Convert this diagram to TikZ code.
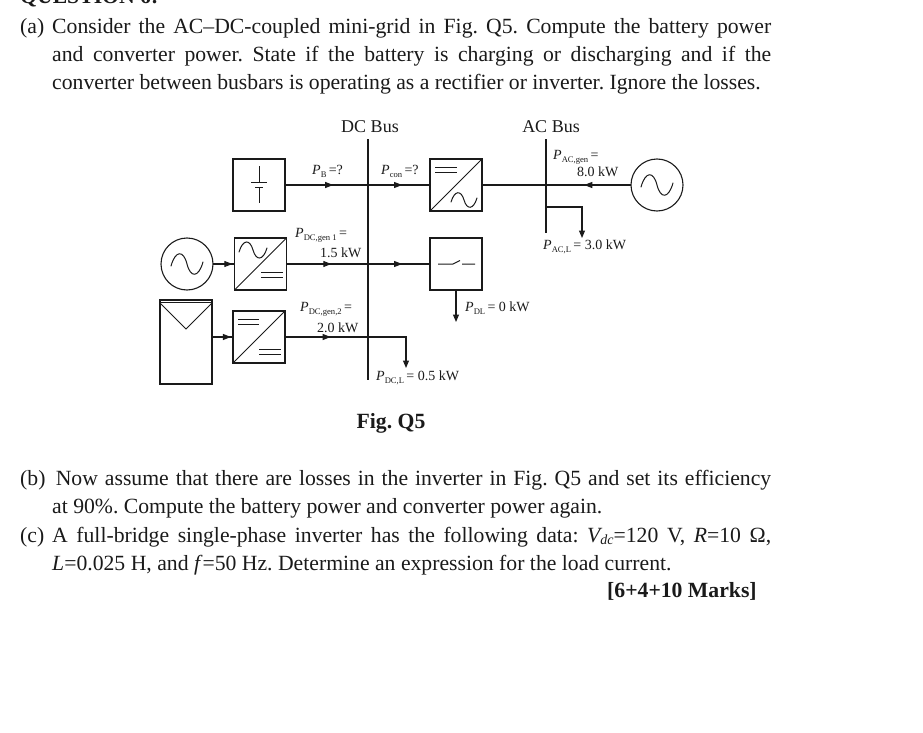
\documentclass[tikz,border=0pt]{standalone}
\usepackage{fontspec}
\setmainfont{Liberation Serif}
\usetikzlibrary{arrows.meta,decorations.markings}
\definecolor{ink}{HTML}{1A1A1A}
\frenchspacing
\newcommand{\Psb}[1]{\textit{P}\raisebox{-3pt}{\fontsize{8.6}{9}\selectfont #1}}
\newcommand{\sline}[1]{\makebox[719pt][s]{#1}}
\tikzset{
  conn/.style={draw=ink,line width=1.05pt},
  thin sym/.style={draw=ink,line width=1pt},
  busbar/.style={draw=ink,line width=2.2pt},
  boxn/.style={draw=ink,line width=1.2pt,rectangle,minimum width=52pt,minimum height=52pt,inner sep=0pt,outer sep=0pt},
  gen/.style={draw=ink,line width=1.1pt,circle,minimum size=52pt,inner sep=0pt,outer sep=0pt},
  body/.style={anchor=base west,inner sep=0pt,text=ink,font=\fontsize{21.7}{24}\selectfont},
  boldbody/.style={body,font=\fontsize{21.7}{24}\selectfont\bfseries},
  lab/.style={anchor=base west,inner sep=0pt,text=ink,font=\fontsize{14}{16}\selectfont},
  busl/.style={anchor=base,inner sep=0pt,text=ink,font=\fontsize{18}{20}\selectfont},
  arrowat/.style={postaction={decorate,decoration={markings,mark=at position #1 with {\arrow[ink]{Triangle[length=8pt,width=6pt]}}}}},
  endtip/.style={-{Triangle[length=7.5pt,width=6pt]}}
}
\newcommand{\sinew}[4]{% centre x, centre y, half width, control height
  \draw[thin sym,line cap=round] (#1-#3,#2+2) .. controls (#1-#3*0.72,#2-#4) and (#1-#3*0.22,#2-#4) .. (#1,#2) .. controls (#1+#3*0.22,#2+#4) and (#1+#3*0.72,#2+#4) .. (#1+#3,#2-2);}
\newcommand{\dbl}[3]{% left x, right x, top y
  \draw[thin sym] (#1,#3) -- (#2,#3) (#1,#3+5.3) -- (#2,#3+5.3);}
\begin{document}
\begin{tikzpicture}[x=1pt,y=-1pt]
\useasboundingbox (0,0) rectangle (923,733);
% text
\node[boldbody] (qt) at (20,4) {QUESTION 6:};
\node[body] (a0) at (20,33.5) {(a)};
\node[body] (a1) at (52,33.5) {\sline{Consider the AC–DC-coupled mini-grid in Fig. Q5. Compute the battery power}};
\node[body] (a2) at (52,61.5) {\sline{and converter power. State if the battery is charging or discharging and if the}};
\node[body] (a3) at (52,90) {converter between busbars is operating as a rectifier or inverter. Ignore the losses.};
\node[boldbody,anchor=base] (fig) at (391,428) {Fig. Q5};
\node[body] (b0) at (20,485.5) {(b)};
\node[body] (b1) at (52,485.5) {\sline{\,Now assume that there are losses in the inverter in Fig. Q5 and set its efficiency}};
\node[body] (b2) at (52,513.5) {at 90\%. Compute the battery power and converter power again.};
\node[body] (c0) at (20,542.5) {(c)};
\node[body] (c1) at (52,542.5) {\sline{A full-bridge single-phase inverter has the following data: \textit{V\raisebox{-2pt}{\fontsize{14}{15}\selectfont dc}}=120 V, \textit{R}=10 Ω,}};
\node[body] (c2) at (52,570.5) {\textit{L}=0.025 H, and \textit{f}=50 Hz. Determine an expression for the load current.};
\node[boldbody] (mk) at (607,597.5) {[6+4+10 Marks]};
% buses
\coordinate (dct) at (368,139); \coordinate (dcb) at (368,380);
\coordinate (act) at (546,139); \coordinate (acb) at (546,233);
\coordinate (dc1) at (368,185); \coordinate (dc2) at (368,264); \coordinate (dc3) at (368,337);
\coordinate (ac1) at (546,185); \coordinate (ac2) at (546,207);
\coordinate (accorner) at (582,207); \coordinate (acend) at (582,238);
\coordinate (dccorner) at (406,337); \coordinate (dcend) at (406,368);
\coordinate (dlend) at (456,322);
\draw[busbar] (dct) -- (dcb);
\draw[busbar] (act) -- (acb);
\node[busl] (dcl) at (370,132) {DC Bus};
\node[busl] (acl) at (551,132) {AC Bus};
% blocks
\node[boxn] (bat) at (259,185) {};
\node[boxn] (cv) at (456,185) {};
\node[boxn] (sw) at (456,264) {};
\node[boxn] (cg) at (260.5,264) {};
\node[boxn] (cp) at (259,337) {};
\node[gen] (g1) at (187,264) {};
\node[gen] (g2) at (657,185) {};
\node[boxn,minimum width=52pt,minimum height=84pt] (pv) at (186,342) {};
% battery
\draw[thin sym] (259,166) -- (259,182) (251,182) -- (267,182) (255,187) -- (263,187) (259,187) -- (259,203);
% converters
\draw[thin sym] (cv.south west) -- (cv.north east);
\dbl{435}{457}{167}
\sinew{464}{200}{13}{10}
\draw[thin sym] (cg.south west) -- (cg.north east);
\sinew{253}{250}{14}{11}
\dbl{261}{283}{272}
\draw[thin sym] (cp.south west) -- (cp.north east);
\dbl{238}{259}{319}
\dbl{259}{281}{349.5}
% switch
\draw[thin sym] (438,264) -- (453,264) -- (460,260.5) (462,264) -- (475,264);
% pv
\draw[thin sym] (160,303) -- (186,329) -- (212,303);
\draw[thin sym] (160,302) -- (212,302);
\sinew{187}{264}{16}{14}
\sinew{657}{185}{16}{14}
% connectors
\draw[conn,arrowat=.58] (bat.east) -- (dc1);
\draw[conn,arrowat=.55] (dc1) -- (cv.west);
\draw[conn] (cv.east) -- (ac1);
\draw[conn,arrowat=.55] (g2.west) -- (ac1);
\draw[conn,endtip] (ac2) -- (accorner) -- (acend);
\draw[conn,arrowat=.9] (g1.east) -- (cg.west);
\draw[conn,arrowat=.55] (cg.east) -- (dc2);
\draw[conn,arrowat=.55] (dc2) -- (sw.west);
\draw[conn,endtip] (sw.south) -- (dlend);
\draw[conn,arrowat=.9] (pv.east |- cp) -- (cp.west);
\draw[conn,arrowat=.55] (cp.east) -- (dc3);
\draw[conn,endtip] (dc3) -- (dccorner) -- (dcend);
% labels
\node[lab] (lb) at (312,174) {\Psb{B}\,=?};
\node[lab] (lc) at (381,174) {\Psb{con}\,=?};
\node[lab] (l1) at (295,237) {\Psb{DC,gen 1}\,=};
\node[lab] (l1b) at (320,257) {1.5 kW};
\node[lab] (l2) at (300,311) {\Psb{DC,gen,2}\,=};
\node[lab] (l2b) at (317,332) {2.0 kW};
\node[lab] (ldl) at (465,311) {\Psb{DL}\,= 0 kW};
\node[lab] (ldc) at (376,380) {\Psb{DC,L}\,= 0.5 kW};
\node[lab] (lal) at (543,249) {\Psb{AC,L}\,= 3.0 kW};
\node[lab] (lag) at (553,159) {\Psb{AC,gen}\,=};
\node[lab] (lagb) at (577,176) {8.0 kW};
\end{tikzpicture}
\end{document}
